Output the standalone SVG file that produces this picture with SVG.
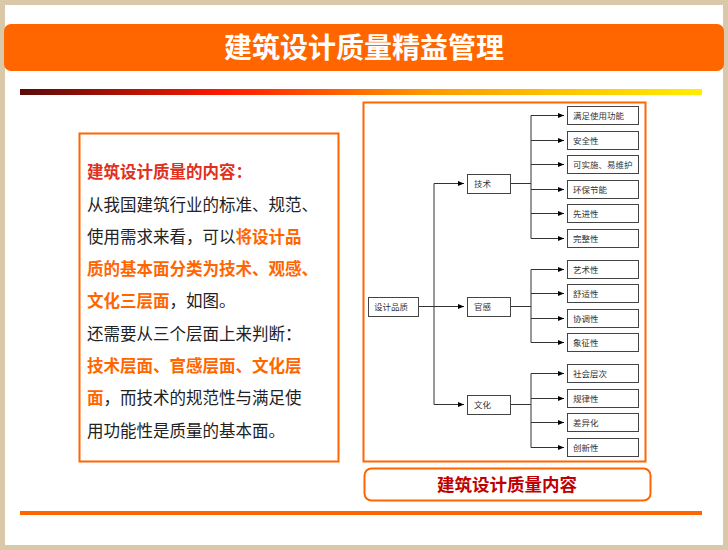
<svg xmlns="http://www.w3.org/2000/svg" width="728" height="550" viewBox="0 0 728 550">
<defs>
<linearGradient id="g" x1="0" x2="1"><stop offset="0" stop-color="#5a0a0a"/><stop offset="0.3" stop-color="#ff1a00"/><stop offset="0.6" stop-color="#ff9900"/><stop offset="1" stop-color="#ffee00"/></linearGradient>
<marker id="a" viewBox="0 0 10 10" refX="10" refY="5" markerWidth="6" markerHeight="6" orient="auto"><path d="M0,1 L10,5 L0,9 z" fill="#000"/></marker>
<style>
.t{font-family:"Noto Sans CJK SC",sans-serif;font-size:16.5px;fill:#222}
.hl{fill:#ff6600;font-weight:bold}
.b{fill:#fff;stroke:#444;stroke-width:1}
.n{font-family:"Noto Sans CJK SC",sans-serif;font-size:8.5px;fill:#333}
.c path{fill:none;stroke:#333;stroke-width:1}
</style>
</defs>
<rect width="728" height="550" fill="#d9c9a8"/>
<rect x="5" y="5" width="718" height="540" fill="#fff"/>
<rect x="4" y="24" width="720" height="47" rx="7" fill="#ff6600"/>
<text x="364" y="58" text-anchor="middle" font-family="Noto Sans CJK SC,sans-serif" font-weight="bold" font-size="28" fill="#fff">建筑设计质量精益管理</text>
<rect x="20" y="89" width="682" height="6" fill="url(#g)"/>
<rect x="20" y="511" width="682" height="4" fill="#ff6600"/>
<rect x="79.5" y="133.5" width="259" height="328" fill="#fff" stroke="#ff6600" stroke-width="2"/>
<g class="t">
<text x="87" y="178" font-weight="bold" style="fill:#e0301e">建筑设计质量的内容：</text>
<text x="87" y="211">从我国建筑行业的标准、规范、</text>
<text x="87" y="243">使用需求来看，可以<tspan class="hl">将设计品</tspan></text>
<text x="87" y="275"><tspan class="hl">质的基本面分类为技术、观感、</tspan></text>
<text x="87" y="307"><tspan class="hl">文化三层面</tspan>，如图。</text>
<text x="87" y="340">还需要从三个层面上来判断：</text>
<text x="87" y="372"><tspan class="hl">技术层面、官感层面、文化层</tspan></text>
<text x="87" y="404"><tspan class="hl">面</tspan>，而技术的规范性与满足使</text>
<text x="87" y="437">用功能性是质量的基本面。</text>
</g>
<rect x="363.5" y="102.5" width="282" height="359" fill="#fff" stroke="#ff6600" stroke-width="2"/>
<rect x="364.5" y="468.5" width="286" height="32" rx="7" fill="#fff" stroke="#ff6600" stroke-width="2"/>
<text x="507" y="491" text-anchor="middle" font-family="Noto Sans CJK SC,sans-serif" font-weight="bold" font-size="17.5" fill="#c00000">建筑设计质量内容</text>
<g class="c">
<path d="M418,306.5 H464" marker-end="url(#a)"/>
<path d="M434,404.5 V183.5 H464" marker-end="url(#a)"/>
<path d="M434,404.5 H464" marker-end="url(#a)"/>
<path d="M510,183.5 H531"/><path d="M531,115.5 V238.5"/>
<path d="M531,115.5 H564" marker-end="url(#a)"/><path d="M531,140.5 H564" marker-end="url(#a)"/><path d="M531,164.5 H564" marker-end="url(#a)"/><path d="M531,189.5 H564" marker-end="url(#a)"/><path d="M531,213.5 H564" marker-end="url(#a)"/><path d="M531,238.5 H564" marker-end="url(#a)"/>
<path d="M510,306.5 H531"/><path d="M531,269.5 V342.5"/>
<path d="M531,269.5 H564" marker-end="url(#a)"/><path d="M531,293.5 H564" marker-end="url(#a)"/><path d="M531,318.5 H564" marker-end="url(#a)"/><path d="M531,342.5 H564" marker-end="url(#a)"/>
<path d="M510,404.5 H531"/><path d="M531,373.5 V447.5"/>
<path d="M531,373.5 H564" marker-end="url(#a)"/><path d="M531,398.5 H564" marker-end="url(#a)"/><path d="M531,422.5 H564" marker-end="url(#a)"/><path d="M531,447.5 H564" marker-end="url(#a)"/>
</g>
<g id="root"><rect class="b" x="368.5" y="297.5" width="50" height="19"/><text class="n" x="374" y="310">设计品质</text></g>
<g id="jishu"><rect class="b" x="467.5" y="174.5" width="43" height="19"/><text class="n" x="474" y="187">技术</text></g>
<g id="guangan"><rect class="b" x="467.5" y="297.5" width="43" height="19"/><text class="n" x="474" y="310">官感</text></g>
<g id="wenhua"><rect class="b" x="467.5" y="395.5" width="43" height="19"/><text class="n" x="474" y="408">文化</text></g>
<g id="l1"><rect class="b" x="567.5" y="106.5" width="71" height="18"/><text class="n" x="573" y="119">满足使用功能</text></g>
<g id="l2"><rect class="b" x="567.5" y="131.5" width="71" height="18"/><text class="n" x="573" y="144">安全性</text></g>
<g id="l3"><rect class="b" x="567.5" y="155.5" width="71" height="18"/><text class="n" x="573" y="168">可实施、易维护</text></g>
<g id="l4"><rect class="b" x="567.5" y="180.5" width="71" height="18"/><text class="n" x="573" y="193">环保节能</text></g>
<g id="l5"><rect class="b" x="567.5" y="204.5" width="71" height="18"/><text class="n" x="573" y="217">先进性</text></g>
<g id="l6"><rect class="b" x="567.5" y="229.5" width="71" height="18"/><text class="n" x="573" y="242">完整性</text></g>
<g id="l7"><rect class="b" x="567.5" y="260.5" width="71" height="18"/><text class="n" x="573" y="273">艺术性</text></g>
<g id="l8"><rect class="b" x="567.5" y="284.5" width="71" height="18"/><text class="n" x="573" y="297">舒适性</text></g>
<g id="l9"><rect class="b" x="567.5" y="309.5" width="71" height="18"/><text class="n" x="573" y="322">协调性</text></g>
<g id="l10"><rect class="b" x="567.5" y="333.5" width="71" height="18"/><text class="n" x="573" y="346">象征性</text></g>
<g id="l11"><rect class="b" x="567.5" y="364.5" width="71" height="18"/><text class="n" x="573" y="377">社会层次</text></g>
<g id="l12"><rect class="b" x="567.5" y="389.5" width="71" height="18"/><text class="n" x="573" y="402">规律性</text></g>
<g id="l13"><rect class="b" x="567.5" y="413.5" width="71" height="18"/><text class="n" x="573" y="426">差异化</text></g>
<g id="l14"><rect class="b" x="567.5" y="438.5" width="71" height="18"/><text class="n" x="573" y="451">创新性</text></g>
</svg>
